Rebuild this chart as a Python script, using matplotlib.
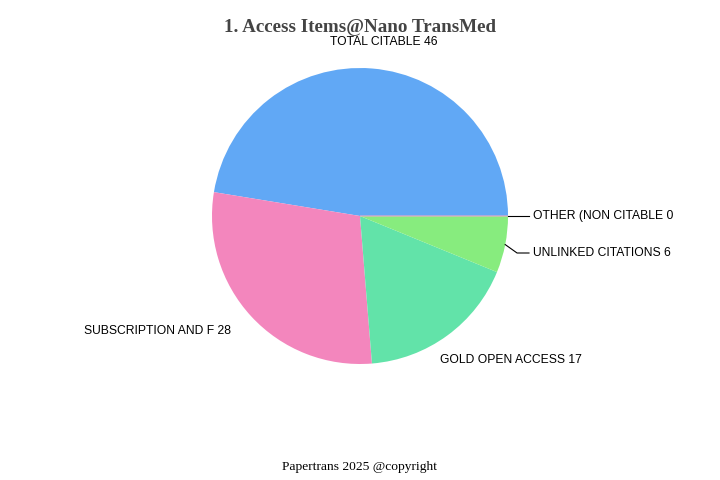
import numpy as np
import matplotlib.pyplot as plt

labels = ["TOTAL CITABLE", "SUBSCRIPTION AND F", "GOLD OPEN ACCESS",
          "UNLINKED CITATIONS", "OTHER (NON CITABLE"]
values = [46, 28, 17, 6, 0]
colors = ["#61a8f5", "#f386bd", "#62e3a9", "#87ec7e", "#f0a8c8"]

fig = plt.figure(figsize=(7.2, 4.8), dpi=100)
cx, cy, r = 360, 216, 148
ax = fig.add_axes([(cx - r) / 720, 1 - (cy + r) / 480, 2 * r / 720, 2 * r / 480])
wedges, _ = ax.pie(values, colors=colors, startangle=0, counterclock=True, radius=1,
                   wedgeprops=dict(linewidth=0))
# the empty slice still shows as a hairline in the original
wedges[-1].set_edgecolor(colors[-1])
wedges[-1].set_linewidth(0.8)
ax.set_xlim(-1, 1)
ax.set_ylim(-1, 1)
ax.set_aspect("equal")
ax.axis("off")

label_font = dict(family=["Liberation Sans", "DejaVu Sans"], fontsize=8.7, color="black")

# label placement (pixel coords) per slice: x, y, horizontal alignment
place = {
    "TOTAL CITABLE": (384, 42, "center"),
    "SUBSCRIPTION AND F": (157, 331, "center"),
    "GOLD OPEN ACCESS": (511, 360, "center"),
    "OTHER (NON CITABLE": (533, 216, "left"),
    "UNLINKED CITATIONS": (533, 253, "left"),
}
for lab, v in zip(labels, values):
    px, py, ha = place[lab]
    fig.text(px / 720, 1 - py / 480, f"{lab} {v}", ha=ha, va="center", **label_font)

# leader lines for the small slices
total = sum(values)
angles = np.cumsum([0] + values)
for lab, v, a0 in zip(labels, values, angles[:-1]):
    if lab not in ("OTHER (NON CITABLE", "UNLINKED CITATIONS"):
        continue
    mid = np.deg2rad((a0 + v / 2) / total * 360)
    x0, y0 = np.cos(mid), np.sin(mid)
    px, py, _ = place[lab]
    ty = (cy - py) / r
    tx = (px - 4 - cx) / r
    if v == 0:
        ax.plot([x0, tx], [ty, ty], color="black", lw=0.8, clip_on=False)
    else:
        kx = x0 + 0.08
        ax.plot([x0, kx, tx], [y0, ty, ty], color="black", lw=0.8, clip_on=False)

fig.text(0.5, 1 - 27 / 480, "1. Access Items@Nano TransMed", ha="center", va="center",
         family=["Liberation Serif", "DejaVu Serif"], fontweight="bold",
         fontsize=13.7, color="#444444")
fig.text(0.5, 1 - 467 / 480, "Papertrans 2025 @copyright", ha="center", va="center",
         family=["Liberation Serif", "DejaVu Serif"], fontsize=9.7, color="black")

fig.savefig("out.png", dpi=100)
